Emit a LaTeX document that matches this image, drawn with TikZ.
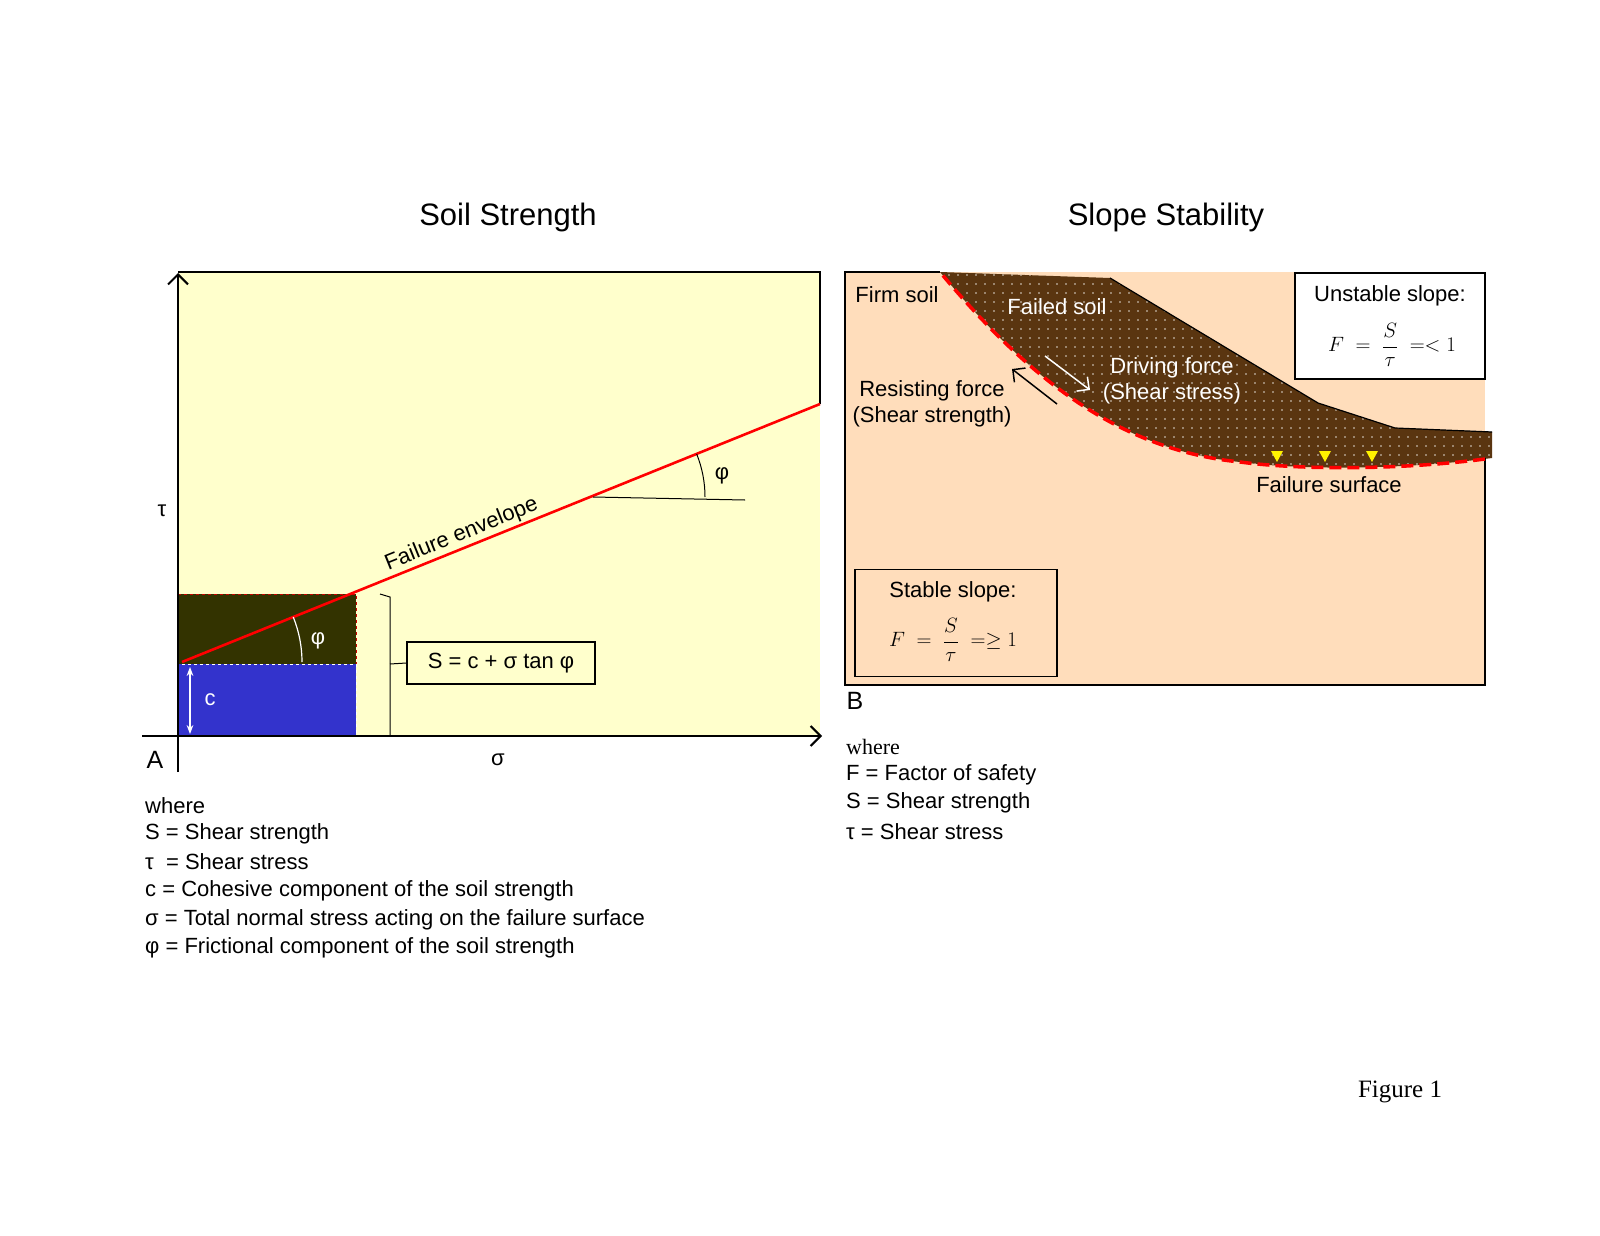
\documentclass[tikz,border=0pt]{standalone}
\usepackage{fontspec}
\setmainfont{Liberation Sans}
\newfontfamily\serif{Liberation Serif}
\usetikzlibrary{arrows.meta}
\definecolor{pale}{HTML}{FFFFCC}
\definecolor{olive}{HTML}{333300}
\definecolor{blu}{HTML}{3333CC}
\definecolor{peach}{HTML}{FFDDBB}
\definecolor{brn}{HTML}{5A3510}
\tikzset{
 lab/.style={font=\fontsize{22}{26}\selectfont, inner sep=1pt},
 ttl/.style={font=\fontsize{31}{36}\selectfont},
 leg/.style={font=\fontsize{22}{28}\selectfont, anchor=west, inner sep=0pt},
 fbox/.style={draw, line width=1.2pt},
}
\begin{document}
\begin{tikzpicture}[x=1pt,y=-1pt]
\useasboundingbox (0,0) rectangle (1600,1236);
\fill[white] (0,0) rectangle (1600,1236);
% ---------- left
\node[ttl] (t1) at (508,217) {Soil Strength};
\fill[pale] (178,272) rectangle (820,736);
\draw[line width=1.2pt] (178,272) -- (820,272) -- (820,404);
\fill[olive] (178,594) rectangle (356,664);
\fill[blu] (178,664) rectangle (356,736);
\draw[red!80!black, dashed, line width=1pt] (178,594) -- (356,594) -- (356,664);
\draw[white, dashed, line width=1pt] (182,664) -- (356,664) -- (356,736);
\coordinate (e0) at (182,662);
\coordinate (e1) at (820,404);
\draw[red, line width=2.6pt] (e0) -- (e1);
\draw[white, line width=1.2pt] (302,662) arc[start angle=0, end angle=-22, radius=120];
\node[lab, white] (phi1) at (318,641) {φ};
\coordinate (h0) at (593,497);
\coordinate (h1) at (745,500);
\draw[line width=1pt] (h0) -- (h1);
\draw[line width=1pt] (705,497) arc[start angle=0, end angle=-22, radius=115];
\node[lab] (phi2) at (722,476) {φ};
\node[lab, rotate=22, anchor=south] (fe) at (466,545) {Failure envelope};
\coordinate (c0) at (190,667);
\coordinate (c1) at (190,734);
\draw[white, line width=1.2pt, {Stealth[length=9pt]}-{Stealth[length=9pt]}] (c0) -- (c1);
\node[lab, white] (cl) at (210,700) {c};
\draw[line width=1pt] (380,594) -- (390,597) -- (390,736);
\node[fbox, lab, minimum width=188pt, minimum height=42pt, inner sep=0pt] (eq) at (501,663) {S = c + σ tan φ};
\draw[line width=1pt] (390,664) -- (eq.west);
\coordinate (ya) at (178,772);
\coordinate (yb) at (178,273);
\coordinate (xa) at (142,736);
\coordinate (xb) at (822,736);
\draw[line width=2pt, -{Straight Barb[length=10pt]}] (ya) -- (yb);
\draw[line width=2pt, -{Straight Barb[length=10pt]}] (xa) -- (xb);
\node[lab] (tau) at (162,511) {τ};
\node[lab] (sig) at (498,760) {σ};
\node[lab, font=\fontsize{25}{28}\selectfont] (A) at (155,760) {A};
\node[leg] (l1) at (145,806) {where};
\node[leg] (l2) at (145,834) {S = Shear strength};
\node[leg] (l3) at (145,862) {τ \ = Shear stress};
\node[leg] (l4) at (145,891) {c = Cohesive component of the soil strength};
\node[leg] (l5) at (145,920) {σ = Total normal stress acting on the failure surface};
\node[leg] (l6) at (145,948) {φ = Frictional component of the soil strength};
% ---------- right
\node[ttl] (t2) at (1166,217) {Slope Stability};
\fill[peach] (845,272) rectangle (1485,685);
\def\failpath{(940,272) -- (1110,278) -- (1318,403) -- (1395,428) -- (1492,432) -- (1492,458)
  .. controls (1400,470) and (1300,470) .. (1240,462)
  .. controls (1120,450) and (1030,380) .. (940,272) -- cycle}
\fill[brn] \failpath;
\begin{scope}
\clip \failpath;
\foreach \y in {275,284,...,470}{
  \foreach \x in {940,949,...,1495}{
    \fill[white!80!brn] (\x,\y) circle[radius=0.9];}}
\end{scope}
\draw[line width=1.2pt] (940,272) -- (845,272) -- (845,685) -- (1485,685) -- (1485,458);
\draw[line width=1.2pt] (1110,278) -- (1318,403) -- (1395,428) -- (1492,432);
\draw[red, line width=3.5pt, dash pattern=on 12pt off 6pt] (1485,459)
  .. controls (1400,470) and (1300,470) .. (1240,462)
  .. controls (1120,450) and (1030,380) .. (940,272);
\foreach \x in {1277,1325,1372}{
  \fill[yellow] (\x-6,451) -- (\x+6,451) -- (\x,462) -- cycle;}
\coordinate (r0) at (1057,404);
\coordinate (r1) at (1012,369);
\coordinate (d0) at (1045,356);
\coordinate (d1) at (1090,390);
\draw[line width=1.5pt, -{Straight Barb[length=9pt]}] (r0) -- (r1);
\draw[white, line width=1.5pt, -{Straight Barb[length=9pt]}] (d0) -- (d1);
\node[lab] (fs) at (897,295) {Firm soil};
\node[lab, white] (fd) at (1057,307) {Failed soil};
\node[lab, white, align=center] (df) at (1172,381) {Driving force\\(Shear stress)};
\node[lab, align=center] (rf) at (932,404) {Resisting force\\(Shear strength)};
\node[lab] (fsu) at (1329,485) {Failure surface};
\node[fbox, fill=white, minimum width=190pt, minimum height=106pt] (ub) at (1390,326) {};
\node[lab] at (1390,296) {Unstable slope:};
\node[font=\fontsize{22}{26}\selectfont] at (1392,345) {$\displaystyle F \;=\; \frac{S}{\tau} \;=<1$};
\node[fbox, minimum width=202pt, minimum height=107pt] (sb) at (956,623) {};
\node[lab] at (953,592) {Stable slope:};
\node[font=\fontsize{20}{24}\selectfont] at (953,640) {$\displaystyle F \;=\; \frac{S}{\tau} \;=\geq 1$};
\node[lab, font=\fontsize{25}{28}\selectfont] (B) at (855,701) {B};
\node[leg, font=\fontsize{22}{28}\selectfont\serif] (m1) at (846,747) {where};
\node[leg] (m2) at (846,775) {F = Factor of safety};
\node[leg] (m3) at (846,803) {S = Shear strength};
\node[leg] (m4) at (846,832) {τ = Shear stress};
\node[font=\fontsize{25}{28}\selectfont\serif] (fig) at (1400,1092) {Figure 1};
\end{tikzpicture}
\end{document}
